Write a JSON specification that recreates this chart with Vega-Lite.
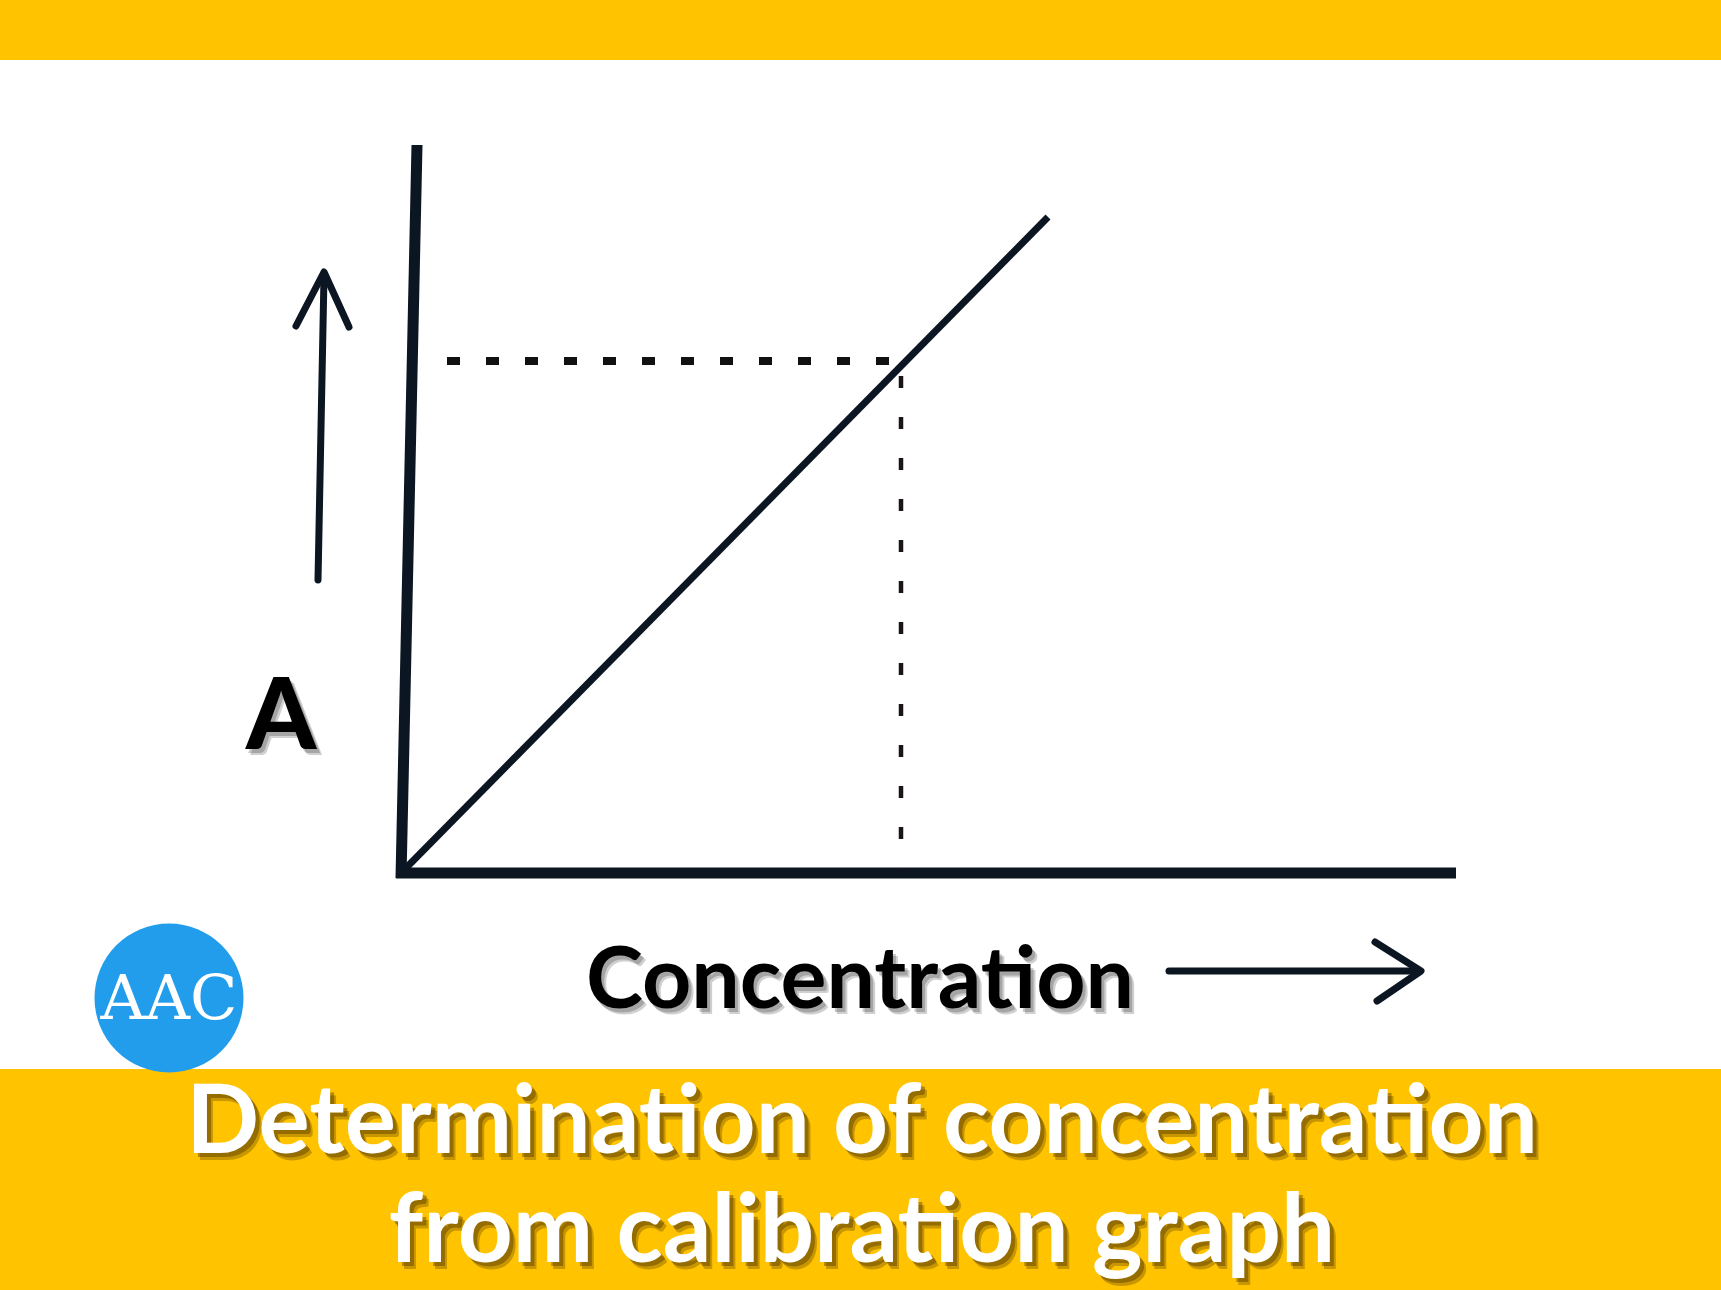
{
  "$schema": "https://vega.github.io/schema/vega-lite/v6.json",
  "width": 1721,
  "height": 1290,
  "autosize": {"type": "none"},
  "padding": 0,
  "background": "#ffffff",
  "config": {"view": {"stroke": null}},
  "datasets": {
    "bands": [
      {"band": "header", "x": -4.02, "x2": 13.19, "y": 8.12, "y2": 8.72},
      {"band": "footer", "x": -4.02, "x2": 13.19, "y": -4.18, "y2": -1.97}
    ],
    "frame": [
      {"seg": "absorbance axis", "i": 0, "x": 0.15, "y": 7.27},
      {"seg": "absorbance axis", "i": 1, "x": -0.01, "y": -0.06},
      {"seg": "concentration axis", "i": 0, "x": -0.06, "y": -0.01},
      {"seg": "concentration axis", "i": 1, "x": 10.54, "y": -0.01}
    ],
    "calibration": [
      {"conc": 0.02, "abs": 0.02},
      {"conc": 6.46, "abs": 6.55}
    ],
    "readAcross": [
      {"conc": 0.45, "abs": 5.11},
      {"conc": 4.97, "abs": 5.11}
    ],
    "readDown": [
      {"conc": 4.99, "abs": 5.1},
      {"conc": 4.99, "abs": 0.02}
    ],
    "arrows": [
      {"seg": "up shaft", "i": 0, "x": -0.84, "y": 2.92},
      {"seg": "up shaft", "i": 1, "x": -0.78, "y": 5.96},
      {"seg": "up head", "i": 0, "x": -1.06, "y": 5.46},
      {"seg": "up head", "i": 1, "x": -0.78, "y": 6.0},
      {"seg": "up head", "i": 2, "x": -0.53, "y": 5.45},
      {"seg": "right shaft", "i": 0, "x": 7.67, "y": -0.99},
      {"seg": "right shaft", "i": 1, "x": 10.17, "y": -0.99},
      {"seg": "right head", "i": 0, "x": 9.73, "y": -0.7},
      {"seg": "right head", "i": 1, "x": 10.19, "y": -0.99},
      {"seg": "right head", "i": 2, "x": 9.75, "y": -1.29}
    ],
    "logo": [{"name": "AAC", "x": -2.33, "y": -1.26, "ty": -1.47}],
    "labels": [
      {"role": "yTitle", "text": "A", "x": -1.21, "y": 1.23},
      {"role": "xTitle", "text": "Concentration", "x": 4.58, "y": -1.36},
      {"role": "caption", "text": "Determination of concentration", "x": 4.6, "y": -2.81},
      {"role": "caption", "text": "from calibration graph", "x": 4.6, "y": -3.9}
    ]
  },
  "layer": [
    {
      "data": {"name": "bands"},
      "mark": {"type": "rect", "color": "#FFC300"},
      "encoding": {
        "x": {"field": "x", "type": "quantitative", "scale": {"domain": [-4.02, 13.19], "nice": false, "zero": false}, "axis": null},
        "x2": {"field": "x2"},
        "y": {"field": "y", "type": "quantitative", "scale": {"domain": [-4.18, 8.72], "nice": false, "zero": false}, "axis": null},
        "y2": {"field": "y2"}
      }
    },
    {
      "data": {"name": "frame"},
      "mark": {"type": "line", "color": "#0b1622", "strokeWidth": 11, "strokeCap": "butt"},
      "encoding": {
        "x": {"field": "x", "type": "quantitative", "scale": {"domain": [-4.02, 13.19], "nice": false, "zero": false}, "axis": null},
        "y": {"field": "y", "type": "quantitative", "scale": {"domain": [-4.18, 8.72], "nice": false, "zero": false}, "axis": null},
        "detail": {"field": "seg"},
        "order": {"field": "i"}
      }
    },
    {
      "data": {"name": "calibration"},
      "mark": {"type": "line", "color": "#0b1622", "strokeWidth": 7, "strokeCap": "butt"},
      "encoding": {
        "x": {"field": "conc", "type": "quantitative", "scale": {"domain": [-4.02, 13.19], "nice": false, "zero": false}, "axis": null},
        "y": {"field": "abs", "type": "quantitative", "scale": {"domain": [-4.18, 8.72], "nice": false, "zero": false}, "axis": null}
      }
    },
    {
      "data": {"name": "readAcross"},
      "mark": {"type": "line", "color": "#111111", "strokeWidth": 8, "strokeDash": [13, 26], "strokeCap": "butt"},
      "encoding": {
        "x": {"field": "conc", "type": "quantitative", "scale": {"domain": [-4.02, 13.19], "nice": false, "zero": false}, "axis": null},
        "y": {"field": "abs", "type": "quantitative", "scale": {"domain": [-4.18, 8.72], "nice": false, "zero": false}, "axis": null}
      }
    },
    {
      "data": {"name": "readDown"},
      "mark": {"type": "line", "color": "#1a1418", "strokeWidth": 4.5, "strokeDash": [12, 29], "strokeDashOffset": 27, "strokeCap": "butt"},
      "encoding": {
        "x": {"field": "conc", "type": "quantitative", "scale": {"domain": [-4.02, 13.19], "nice": false, "zero": false}, "axis": null},
        "y": {"field": "abs", "type": "quantitative", "scale": {"domain": [-4.18, 8.72], "nice": false, "zero": false}, "axis": null},
        "order": {"field": "abs", "sort": "descending"}
      }
    },
    {
      "data": {"name": "arrows"},
      "mark": {"type": "line", "color": "#0b1622", "strokeWidth": 7, "strokeCap": "round", "strokeJoin": "round"},
      "encoding": {
        "x": {"field": "x", "type": "quantitative", "scale": {"domain": [-4.02, 13.19], "nice": false, "zero": false}, "axis": null},
        "y": {"field": "y", "type": "quantitative", "scale": {"domain": [-4.18, 8.72], "nice": false, "zero": false}, "axis": null},
        "detail": {"field": "seg"},
        "order": {"field": "i"}
      }
    },
    {
      "data": {"name": "logo"},
      "mark": {"type": "point", "shape": "circle", "filled": true, "size": 22200, "color": "#229DEC", "opacity": 1, "strokeWidth": 0},
      "encoding": {
        "x": {"field": "x", "type": "quantitative", "scale": {"domain": [-4.02, 13.19], "nice": false, "zero": false}, "axis": null},
        "y": {"field": "y", "type": "quantitative", "scale": {"domain": [-4.18, 8.72], "nice": false, "zero": false}, "axis": null}
      }
    },
    {
      "data": {"name": "logo"},
      "mark": {"type": "text", "font": "DejaVu Serif", "fontSize": 62, "color": "#ffffff", "align": "center", "baseline": "alphabetic", "fontWeight": "normal"},
      "encoding": {
        "x": {"field": "x", "type": "quantitative", "scale": {"domain": [-4.02, 13.19], "nice": false, "zero": false}, "axis": null},
        "y": {"field": "ty", "type": "quantitative", "scale": {"domain": [-4.18, 8.72], "nice": false, "zero": false}, "axis": null},
        "text": {"field": "name"}
      }
    },
    {
      "data": {"name": "labels"},
      "transform": [{"filter": "datum.role === 'yTitle'"}],
      "layer": [
        {"mark": {"type": "text", "font": "Lato", "fontWeight": 900, "fontSize": 100, "color": "#000000", "opacity": 0.18, "align": "center", "baseline": "alphabetic", "dx": 5, "dy": 6}},
        {"mark": {"type": "text", "font": "Lato", "fontWeight": 900, "fontSize": 100, "color": "#000000", "opacity": 0.2, "align": "center", "baseline": "alphabetic", "dx": 3, "dy": 4}},
        {"mark": {"type": "text", "font": "Lato", "fontWeight": 900, "fontSize": 100, "color": "#000000", "align": "center", "baseline": "alphabetic"}}
      ],
      "encoding": {
        "x": {"field": "x", "type": "quantitative", "scale": {"domain": [-4.02, 13.19], "nice": false, "zero": false}, "axis": null},
        "y": {"field": "y", "type": "quantitative", "scale": {"domain": [-4.18, 8.72], "nice": false, "zero": false}, "axis": null},
        "text": {"field": "text"}
      }
    },
    {
      "data": {"name": "labels"},
      "transform": [{"filter": "datum.role === 'xTitle'"}],
      "layer": [
        {"mark": {"type": "text", "font": "Lato", "fontWeight": "bold", "fontSize": 86, "color": "#000000", "opacity": 0.18, "align": "center", "baseline": "alphabetic", "dx": 5, "dy": 6}},
        {"mark": {"type": "text", "font": "Lato", "fontWeight": "bold", "fontSize": 86, "color": "#000000", "opacity": 0.2, "align": "center", "baseline": "alphabetic", "dx": 3, "dy": 4}},
        {"mark": {"type": "text", "font": "Lato", "fontWeight": "bold", "fontSize": 86, "color": "#000000", "align": "center", "baseline": "alphabetic"}}
      ],
      "encoding": {
        "x": {"field": "x", "type": "quantitative", "scale": {"domain": [-4.02, 13.19], "nice": false, "zero": false}, "axis": null},
        "y": {"field": "y", "type": "quantitative", "scale": {"domain": [-4.18, 8.72], "nice": false, "zero": false}, "axis": null},
        "text": {"field": "text"}
      }
    },
    {
      "data": {"name": "labels"},
      "transform": [{"filter": "datum.role === 'caption'"}],
      "layer": [
        {"mark": {"type": "text", "font": "Lato", "fontWeight": "bold", "fontSize": 96, "color": "#4a3000", "opacity": 0.3, "align": "center", "baseline": "alphabetic", "dx": 6, "dy": 7}},
        {"mark": {"type": "text", "font": "Lato", "fontWeight": "bold", "fontSize": 96, "color": "#4a3000", "opacity": 0.4, "align": "center", "baseline": "alphabetic", "dx": 4, "dy": 4}},
        {"mark": {"type": "text", "font": "Lato", "fontWeight": "bold", "fontSize": 96, "color": "#ffffff", "align": "center", "baseline": "alphabetic"}}
      ],
      "encoding": {
        "x": {"field": "x", "type": "quantitative", "scale": {"domain": [-4.02, 13.19], "nice": false, "zero": false}, "axis": null},
        "y": {"field": "y", "type": "quantitative", "scale": {"domain": [-4.18, 8.72], "nice": false, "zero": false}, "axis": null},
        "text": {"field": "text"}
      }
    }
  ]
}
